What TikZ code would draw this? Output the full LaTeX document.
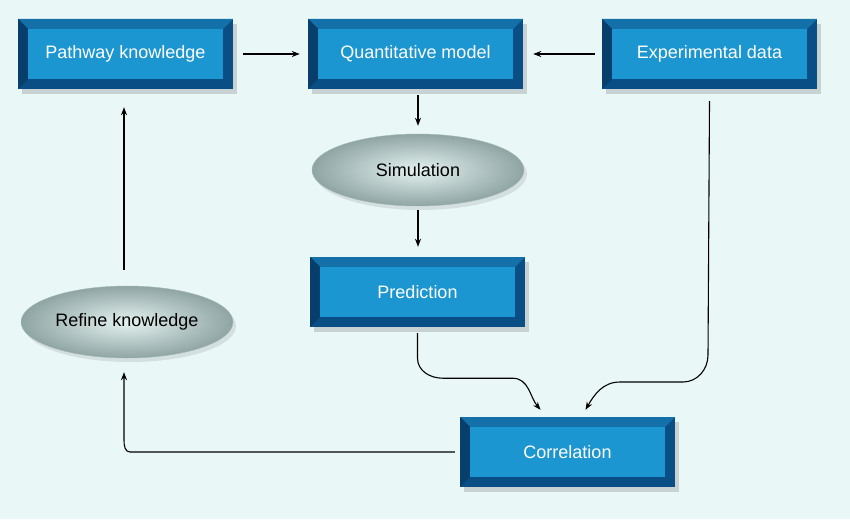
\documentclass[tikz,border=0pt]{standalone}
\usepackage{fontspec}
\setmainfont{Liberation Sans}
\usetikzlibrary{arrows.meta,shadows,shapes.geometric}
\definecolor{bg}{HTML}{EAF7F7}
\definecolor{face}{HTML}{1C96D0}
\definecolor{rim}{HTML}{0A4E86}
\definecolor{rimlight}{HTML}{1470A8}
\definecolor{ovin}{HTML}{E4F2F0}
\definecolor{ovout}{HTML}{8FA5A4}
\begin{document}
\begin{tikzpicture}[x=1pt,y=-1pt,
  box/.style={rectangle,fill=rim,minimum width=215pt,minimum height=70pt,
    text=white,font=\fontsize{18}{21}\selectfont,
    drop shadow={shadow xshift=4pt,shadow yshift=-5pt,opacity=0.25,fill=black!60},
    path picture={
      \fill[rimlight] (path picture bounding box.north west) -- (path picture bounding box.north east)
        -- ([xshift=-10pt,yshift=-10pt]path picture bounding box.north east)
        -- ([xshift=10pt,yshift=-10pt]path picture bounding box.north west) -- cycle;
      \fill[rim!80!black] (path picture bounding box.north west) -- ([xshift=10pt,yshift=-10pt]path picture bounding box.north west)
        -- ([xshift=10pt,yshift=10pt]path picture bounding box.south west)
        -- (path picture bounding box.south west) -- cycle;
      \fill[face] ([xshift=10pt,yshift=-10pt]path picture bounding box.north west)
        rectangle ([xshift=-10pt,yshift=10pt]path picture bounding box.south east);}},
  oval/.style={ellipse,minimum width=212pt,minimum height=72pt,font=\fontsize{18}{21}\selectfont,
    inner color=ovin,outer color=ovout,draw=ovout!80,
    drop shadow={shadow xshift=3pt,shadow yshift=-4pt,opacity=0.2}},
  arr/.style={-{Stealth[length=8pt,width=6pt]},line width=1.1pt,black}]
\fill[bg] (0,0) rectangle (850,519);
\node[box] (pk) at (125.5,54) {Pathway knowledge};
\node[box] (qm) at (415.5,54) {Quantitative model};
\node[box] (ed) at (709.5,54) {Experimental data};
\node[oval] (sim) at (418,170) {Simulation};
\node[box] (pr) at (417.5,292) {Prediction};
\node[oval] (rk) at (127,322) {Refine knowledge};
\node[box] (co) at (567.5,452) {Correlation};
\draw[arr] ([xshift=10pt]pk.east) -- ([xshift=-8pt]qm.west);
\draw[arr] ([xshift=-7pt]ed.west) -- ([xshift=10pt]qm.east);
\draw[arr] ([yshift=-6pt]qm.south -| sim.north) -- ([yshift=8pt]sim.north);
\draw[arr] ([yshift=-4pt]sim.south) -- ([yshift=10pt]sim.south |- pr.north);
\coordinate (r1) at ([yshift=16pt]rk.north -| 124,0);
\draw[arr] (r1) -- ([yshift=-18pt]pk.south -| 124,0);
\coordinate (p0) at ([yshift=-6pt]pr.south);
\coordinate (c1) at ([xshift=-27pt,yshift=7pt]co.north);
\coordinate (c2) at ([xshift=18pt,yshift=7pt]co.north);
\draw[arr] (p0) -- ++(0,25) to[out=-90,in=180] ++(25,20) -- ++(70,0) to[out=0,in=130] (c1);
\draw[arr] ([yshift=-12pt]ed.south) -- (708,355) to[out=-90,in=0] (683,382) -- (620,382) to[out=180,in=60] (c2);
\draw[arr] ([xshift=-5pt]co.west) -- (130,452) to[out=180,in=-90] (124,440) -- ([yshift=-14pt]rk.south -| 124,0);
\end{tikzpicture}
\end{document}
